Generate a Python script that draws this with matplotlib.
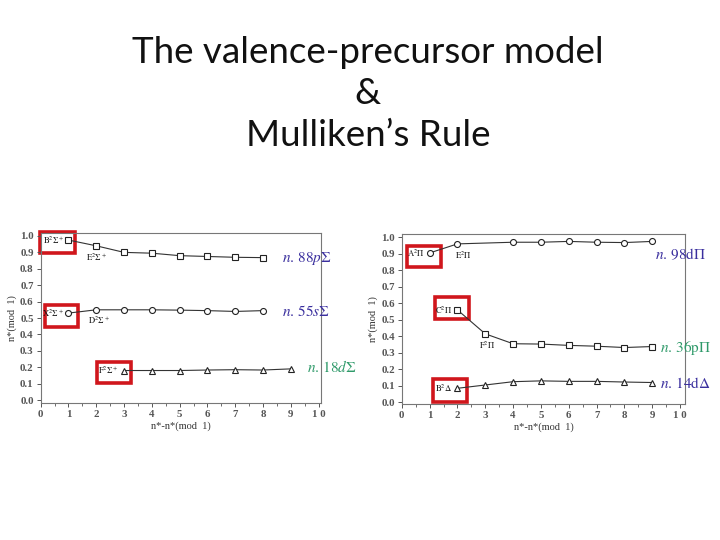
import numpy as np
import matplotlib.pyplot as plt
import matplotlib.transforms as mtransforms
from matplotlib.patches import Rectangle

plt.rcParams['mathtext.fontset'] = 'stix'

# left panel: Sigma series
l_sq_x = [1, 2, 3, 4, 5, 6, 7, 8]
l_sq_y = [0.975, 0.94, 0.90, 0.895, 0.88, 0.875, 0.87, 0.868]
l_ci_x = [1, 2, 3, 4, 5, 6, 7, 8]
l_ci_y = [0.53, 0.55, 0.55, 0.55, 0.548, 0.545, 0.54, 0.545]
l_tr_x = [3, 4, 5, 6, 7, 8, 9]
l_tr_y = [0.18, 0.18, 0.18, 0.183, 0.185, 0.183, 0.19]

# right panel: Pi / Delta series
r_ci_x = [1, 2, 4, 5, 6, 7, 8, 9]
r_ci_y = [0.905, 0.96, 0.97, 0.97, 0.975, 0.97, 0.968, 0.975]
r_sq_x = [2, 3, 4, 5, 6, 7, 8, 9]
r_sq_y = [0.56, 0.415, 0.355, 0.353, 0.345, 0.34, 0.332, 0.338]
r_tr_x = [2, 3, 4, 5, 6, 7, 8, 9]
r_tr_y = [0.085, 0.105, 0.125, 0.13, 0.127, 0.127, 0.123, 0.12]

blue = '#3a2f9e'
green = '#2f9a6a'
red = '#d0161c'

fig = plt.figure(figsize=(7.2, 5.4), dpi=100)

fig.text(0.511, 0.826, 'The valence-precursor model\n&\nMulliken\u2019s Rule',
         ha='center', va='center', fontsize=26.5, family='Lato',
         fontweight='normal', linespacing=1.33, color='#111111')

axL = fig.add_axes([0.0565, 0.2543, 0.389, 0.3142])
axR = fig.add_axes([0.558, 0.2519, 0.3935, 0.3148])

tick_font = dict(family='Liberation Serif', size=7.8, weight='bold')


def style_axes(ax, ylim, xmax):
    ax.set_xlim(0, xmax)
    ax.set_ylim(*ylim)
    ax.set_xticks(np.arange(0, 11, 1))
    ax.set_xticks(np.arange(0.5, 10, 1), minor=True)
    ax.set_xticklabels([str(i) for i in range(10)] + ['1 0'])
    ax.set_yticks(np.arange(0, 1.01, 0.1))
    ax.set_yticklabels(['%.1f' % v for v in np.arange(0, 1.01, 0.1)])
    for lab in ax.get_xticklabels() + ax.get_yticklabels():
        lab.set_fontproperties(tick_font)
        lab.set_color('#333333')
    ax.tick_params(length=3, width=0.7, colors='#555555', pad=2)
    ax.tick_params(which='minor', length=2, width=0.6, colors='#555555')
    for s in ax.spines.values():
        s.set_color('#777777')
        s.set_linewidth(0.8)
    ax.set_xlabel('n*-n*(mod  1)', family='Liberation Serif', size=7.5,
                  color='#333333', labelpad=2)
    ax.set_ylabel('n*(mod  1)', family='Liberation Serif', size=7.5,
                  color='#333333', labelpad=2)


def series(ax, x, y, marker):
    ax.plot(x, y, color='#333333', lw=0.8, marker=marker, ms=4.3,
            mfc='white', mec='#222222', mew=0.8, clip_on=False)


def label(ax, text, x, y, dx, dy, ha):
    ax.annotate(text, xy=(x, y), xytext=(dx * 0.72, dy * 0.72),
                textcoords='offset points', ha=ha, va='center',
                fontsize=6.2, color='#111111', family='STIXGeneral')


def box(ax, x, y, x0, x1, y0, y1):
    tr = fig.dpi_scale_trans + mtransforms.ScaledTranslation(x, y, ax.transData)
    ax.add_patch(Rectangle((x0 / 100, y0 / 100), (x1 - x0) / 100, (y1 - y0) / 100,
                           transform=tr, fill=False, ec=red, lw=2.6, clip_on=False))


style_axes(axL, (-0.016, 1.018), 10.08)
style_axes(axR, (-0.01, 1.02), 10.18)

series(axL, l_sq_x, l_sq_y, 's')
series(axL, l_ci_x, l_ci_y, 'o')
series(axL, l_tr_x, l_tr_y, '^')
series(axR, r_ci_x, r_ci_y, 'o')
series(axR, r_sq_x, r_sq_y, 's')
series(axR, r_tr_x, r_tr_y, '^')

label(axL, r'B$^2\Sigma^+$', l_sq_x[0], l_sq_y[0], -4, 0, 'right')
label(axL, r'E$^2\Sigma^+$', l_sq_x[1], l_sq_y[1], 0, -11, 'center')
label(axL, r'X$^2\Sigma^+$', l_ci_x[0], l_ci_y[0], -4, 0, 'right')
label(axL, r'D$^2\Sigma^+$', l_ci_x[1], l_ci_y[1], 3, -10, 'center')
label(axL, r'F$^2\Sigma^+$', l_tr_x[0], l_tr_y[0], -5, 0, 'right')
label(axR, r'A$^2\Pi$', r_ci_x[0], r_ci_y[0], -5, 0, 'right')
label(axR, r'E$^2\Pi$', r_ci_x[1], r_ci_y[1], 6, -11, 'center')
label(axR, r'C$^2\Pi$', r_sq_x[0], r_sq_y[0], -5, 0, 'right')
label(axR, r'F$^2\Pi$', r_sq_x[1], r_sq_y[1], 2, -11, 'center')
label(axR, r'B$^2\Delta$', r_tr_x[0], r_tr_y[0], -5, 0, 'right')

box(axL, l_sq_x[0], l_sq_y[0], -28, 6.3, -13.3, 8.3)
box(axL, l_ci_x[0], l_ci_y[0], -23.7, 9.6, -13.6, 8.1)
box(axL, l_tr_x[0], l_tr_y[0], -26.8, 6.6, -12.8, 8.8)
box(axR, r_ci_x[0], r_ci_y[0], -22.8, 11.2, -13.7, 7)
box(axR, r_sq_x[0], r_sq_y[0], -22.3, 12, -9.4, 12.6)
box(axR, r_tr_x[0], r_tr_y[0], -24, 9.4, -13.7, 9.3)

notes = [(282, 258, r'$n.\,88p\Sigma$', blue),
         (282, 311, r'$n.\,55s\Sigma$', blue),
         (307, 367, r'$n.\,18d\Sigma$', green),
         (655, 254, r'$n.\,98\mathrm{d}\Pi$', blue),
         (660, 348, r'$n.\,36\mathrm{p}\Pi$', green),
         (660, 384, r'$n.\,14\mathrm{d}\Delta$', blue)]
for px, py, t, c in notes:
    fig.text(px / 720, 1 - py / 540, t, ha='left', va='center',
             fontsize=11, color=c)

fig.savefig('out.png', dpi=100)
